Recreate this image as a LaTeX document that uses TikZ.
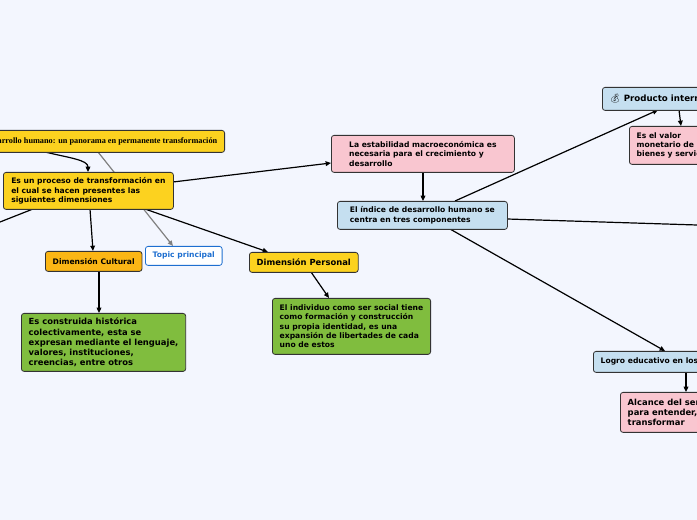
\documentclass[tikz,border=0pt]{standalone}
\usepackage{fontspec}
\setmainfont{DejaVu Sans}
\newfontfamily\serifb{Liberation Serif}
\newfontfamily\emo{Noto Emoji}
\usetikzlibrary{arrows.meta,backgrounds}
\definecolor{bg}{HTML}{F3F6FE}
\definecolor{yel}{HTML}{FCD21F}
\definecolor{org}{HTML}{FBB615}
\definecolor{pnk}{HTML}{F9C6D0}
\definecolor{blu}{HTML}{C5DFF0}
\definecolor{grn}{HTML}{80BD3E}
\definecolor{tblue}{HTML}{1E6FD0}
\tikzset{
 box/.style={draw=black!80,rounded corners=2pt,line width=0.6pt,inner xsep=5.5pt,inner ysep=3pt,font=\fontsize{5.7}{7}\selectfont\bfseries,align=left,anchor=north west},
 con/.style={line width=0.9pt,-{Triangle[length=4pt,width=3.5pt]}},
 pl/.style={line width=0.9pt}
}
\begin{document}
\begin{tikzpicture}[x=0.75pt,y=-0.75pt]
\useasboundingbox (0,0) rectangle (697,520);
\clip (0,0) rectangle (697,520);
\node[box,fill=yel,anchor=north east,minimum height=22*0.75pt,font=\serifb\fontsize{6.2}{7}\selectfont\bfseries] (title) at (225,130) {Desarrollo humano: un panorama en permanente transformación};
\node[box,fill=yel,minimum width=170*0.75pt,minimum height=37*0.75pt] (main) at (3,172) {Es un proceso de transformación en\\el cual se hacen presentes las\\siguientes dimensiones};
\node[box,fill=pnk,minimum width=183*0.75pt,minimum height=37*0.75pt] (macro) at (331,135) {La estabilidad macroeconómica es\\necesaria para el crecimiento y\\desarrollo};
\node[box,fill=blu,minimum width=170*0.75pt,minimum height=28*0.75pt] (ind) at (337,201) {El índice de desarrollo humano se\\centra en tres componentes};
\node[box,fill=blu,minimum height=23*0.75pt,font=\fontsize{6.5}{8}\selectfont\bfseries] (prod) at (602,87) {{\emo 💰} Producto interno bruto};
\node[box,fill=pnk,minimum height=38*0.75pt] (valor) at (629,126) {Es el valor\\monetario de\\bienes y servicios};
\node[box,fill=blu,minimum height=21*0.75pt] (logro) at (593,351) {Logro educativo en los adultos};
\node[box,fill=pnk,minimum height=40*0.75pt,font=\fontsize{6.3}{7.5}\selectfont\bfseries] (alc) at (620,392) {Alcance del ser humano\\para entender, explicar y\\transformar};
\node[box,fill=org,minimum width=96*0.75pt,minimum height=20*0.75pt,align=center] (cult) at (45,251) {Dimensión Cultural};
\node[box,fill=white,draw=tblue,text=tblue,minimum width=73*0.75pt,minimum height=19*0.75pt,align=center] (topic) at (145,246) {Topic principal};
\node[box,fill=yel,minimum width=105*0.75pt,minimum height=20*0.75pt,align=center,font=\fontsize{6.3}{7.5}\selectfont\bfseries] (pers) at (249,252) {Dimensión Personal};
\node[box,fill=grn,minimum width=158*0.75pt,minimum height=58*0.75pt,font=\fontsize{6.3}{7.6}\selectfont\bfseries] (cg) at (21,313) {Es construida histórica\\colectivamente, esta se\\expresan mediante el lenguaje,\\valores, instituciones,\\creencias, entre otros};
\node[box,fill=grn,minimum width=157*0.75pt,minimum height=56*0.75pt] (pg) at (272,298) {El individuo como ser social tiene\\como formación y construcción\\su propia identidad, es una\\expansión de libertades de cada\\uno de estos};
\coordinate (offl) at (0,222);
\coordinate (offr) at (697,225);
\begin{scope}[on background layer]
\fill[bg] (0,0) rectangle (697,520);
\draw[con] (45,152) .. controls (70,158) and (88,160) .. (88,172);
\draw[con,gray] (98,152) -- (173,246);
\draw[con] (173,182) -- (331,163);
\draw[con] (423,172) -- (423,201);
\draw[con] (90,209) -- (93,251);
\draw[con] (145,209) -- (268,252);
\draw[pl] (33,209) -- (offl);
\draw[con] (99,271) -- (99,313);
\draw[con] (311,272) -- (329,298);
\draw[con] (455,201) -- (658,110);
\draw[con] (679,110) -- (681,126);
\draw[pl] (507,219) -- (offr);
\draw[con] (450,229) -- (665,351);
\draw[con] (686,372) -- (686,392);
\end{scope}
\end{tikzpicture}
\end{document}
